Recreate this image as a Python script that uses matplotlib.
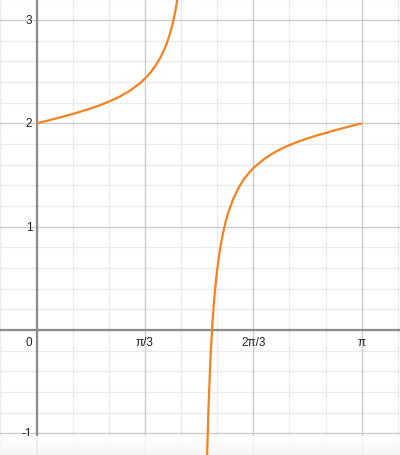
import matplotlib
matplotlib.use('Agg')
import matplotlib.pyplot as plt
import numpy as np

# values (y = curve height at each x)
left_x = [0, 0.1, 0.2, 0.3, 0.4, 0.5, 0.6, 0.7, 0.8, 0.9, 1.0, 1.05, 1.1,
          1.15, 1.2, 1.25, 1.28, 1.31, 1.34, 1.37]
left_y = [2.000, 2.025, 2.051, 2.077, 2.106, 2.137, 2.171, 2.211, 2.257, 2.315,
          2.389, 2.436, 2.491, 2.559, 2.643, 2.752, 2.837, 2.943, 3.079, 3.260]

right_x = [1.645, 1.65, 1.66, 1.68, 1.70, 1.715, 1.73, 1.745, 1.76, 1.78, 1.80,
           1.825, 1.85, 1.90, 1.95, 2.0, 2.05, 2.1, 2.2, 2.3, 2.4, 2.5, 2.6,
           2.7, 2.8, 2.9, 3.0, 3.1416]
right_y = [-1.363, -1.150, -0.795, -0.280, 0.076, 0.278, 0.443, 0.579, 0.695,
           0.823, 0.928, 1.038, 1.129, 1.268, 1.372, 1.454, 1.519, 1.572,
           1.656, 1.720, 1.771, 1.813, 1.849, 1.881, 1.909, 1.938, 1.964, 2.000]

xtick_vals = [0, np.pi / 3, 2 * np.pi / 3, np.pi]
xtick_labels = ['0', 'π/3', '2π/3', 'π']
ytick_vals = [-1, 1, 2, 3]
ytick_labels = ['-1', '1', '2', '3']

fig = plt.figure(figsize=(4, 4.56), dpi=100)
ax = fig.add_axes([0, 0, 1, 1])
ax.set_xlim(-0.353, 3.512)
ax.set_ylim(-1.210, 3.204)
ax.axis('off')

# grid: minor every pi/9 and 0.2, major every pi/3 and 1
for k in range(-1, 12):
    xv = k * np.pi / 9
    major = k % 3 == 0
    ax.axvline(xv, color='#cccccc' if major else '#ebebeb',
               lw=1.0, zorder=1 if major else 0)
for k in range(-7, 17):
    yv = k * 0.2
    major = k % 5 == 0
    ax.axhline(yv, color='#cccccc' if major else '#ebebeb',
               lw=1.0, zorder=1 if major else 0)

ax.axvline(0, color='#8c8c8c', lw=1.6, zorder=2)
ax.axhline(0, color='#8c8c8c', lw=1.6, zorder=2)

ax.plot(left_x, left_y, color='#f5821f', lw=1.6, zorder=4,
        solid_capstyle='butt')
ax.plot(right_x, right_y, color='#f5821f', lw=1.6, zorder=4,
        solid_capstyle='butt')

font = dict(family=['Liberation Sans', 'DejaVu Sans'], fontsize=8.5,
            color='#222222')
for xv, lab in zip(xtick_vals, xtick_labels):
    if lab == '0':
        ax.annotate(lab, (xv, 0), xytext=(-3, -4), textcoords='offset points',
                    ha='right', va='top', zorder=3, **font)
    else:
        ax.annotate(lab, (xv, 0), xytext=(0, -4), textcoords='offset points',
                    ha='center', va='top', zorder=3, **font)
for yv, lab in zip(ytick_vals, ytick_labels):
    ax.annotate(lab, (0, yv), xytext=(-3, 0), textcoords='offset points',
                ha='right', va='center', zorder=3, **font)

# soft shade along the bottom edge
grad = np.linspace(0, 1, 50).reshape(-1, 1)
ax.imshow(grad, extent=[0, 1, 0, 0.04], transform=ax.transAxes,
          cmap='Greys', vmin=0, vmax=12, aspect='auto', alpha=0.9, zorder=3)

fig.savefig('out.png', dpi=100)
